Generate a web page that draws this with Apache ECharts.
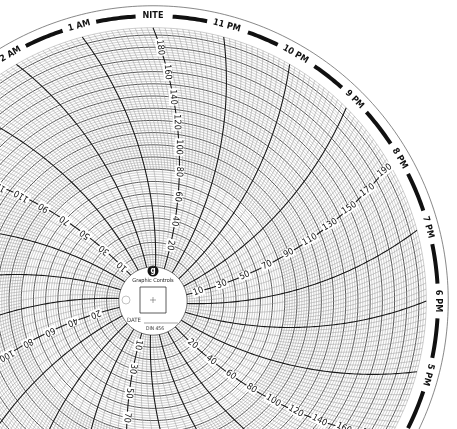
<!DOCTYPE html>
<html><head><meta charset="utf-8">
<script src="https://cdn.jsdelivr.net/npm/echarts@6/dist/echarts.min.js"></script>
<style>html,body{margin:0;padding:0;background:#fff}#c{width:457px;height:429px}</style>
</head><body><div id="c"></div>
<script>
// ---- data ----
const hourLabels = ['6 PM','7 PM','8 PM','9 PM','10 PM','11 PM','NITE','1 AM','2 AM','3 AM','4 AM','5 AM',
                    '6 AM','7 AM','8 AM','9 AM','10 AM','11 AM','NOON','1 PM','2 PM','3 PM','4 PM','5 PM'];
const scaleLineAngles = [90, 30, -30, -90, 210, 150];           // outer end (deg) of each labelled time line
const scaleLineValues = [
  [20,40,60,80,100,120,140,160,180],
  [10,30,50,70,90,110,130,150,170,190],
  [20,40,60,80,100,120,140,160,180],
  [10,30,50,70,90,110,130,150,170,190],
  [20,40,60,80,100,120,140,160,180],
  [10,30,50,70,90,110,130,150,170,190]
];
const scaleMin = 0, scaleMax = 196;  // chart range drawn
const minorCircleStep = 2, majorCircleStep = 10;
const minorTimeStepMin = 15, fineTimeStepMin = 5;

// ---- geometry helpers ----
const HOLE = 28, ARC_D = 600, RING_V = 205.6, EDGE_V = 214;
const outerOff = Math.acos((scaleMax + HOLE) / ARC_D);
function timeAngleDeg(theta0, v) { // curved time arc
  return theta0 - (Math.acos((v + HOLE) / ARC_D) - outerOff) * 180 / Math.PI;
}
const circles = [];
for (let v = scaleMin; v <= scaleMax; v += minorCircleStep) circles.push(v);
const timeLines = [];
for (let m = 0; m < 24 * 60; m += fineTimeStepMin) timeLines.push(m);

const chart = echarts.init(document.getElementById('c'), null, {renderer: 'canvas'});
function poly(points, stroke, w) {
  return {type: 'polyline', silent: true, shape: {points}, style: {stroke, lineWidth: w, fill: null}};
}
const FONT = 'DejaVu Sans Condensed, DejaVu Sans, sans-serif';
chart.setOption({
  animation: false,
  polar: {center: [153, 301], radius: (EDGE_V + HOLE + 1) * 1.22},
  angleAxis: {type: 'value', min: 0, max: 360, startAngle: 0, clockwise: false, show: false},
  radiusAxis: {type: 'value', min: -HOLE, max: EDGE_V + 1, show: false},
  series: [
    { // concentric value circles
      type: 'custom', coordinateSystem: 'polar', data: circles.map(v => [v]),
      renderItem(params, api) {
        const v = api.value(0), pts = [];
        for (let a = 0; a <= 360; a += 1) pts.push(api.coord([v, a]));
        const major = v % majorCircleStep === 0;
        return poly(pts, major ? '#2a2a2a' : '#999', major ? 0.8 : 0.5);
      }
    },
    { // curved time arcs
      type: 'custom', coordinateSystem: 'polar', data: timeLines.map(m => [m]),
      renderItem(params, api) {
        const m = api.value(0);
        const hour = m % 60 === 0, quarter = m % minorTimeStepMin === 0;
        const start = hour || quarter ? scaleMin : 80;
        const th0 = m / 60 * 15, pts = [];
        for (let v = start; v <= scaleMax; v += 2) pts.push(api.coord([v, timeAngleDeg(th0, v)]));
        return poly(pts, hour ? '#1a1a1a' : '#999', hour ? 1.1 : 0.5);
      }
    },
    { // thin outer edge circle
      type: 'custom', coordinateSystem: 'polar', data: [[EDGE_V]],
      renderItem(params, api) {
        const pts = [];
        for (let a = 0; a <= 360; a += 1) pts.push(api.coord([api.value(0), a]));
        return poly(pts, '#555', 0.7);
      }
    },
    { // thick ring segments between hour labels
      type: 'custom', coordinateSystem: 'polar', data: hourLabels.map((t, i) => [i, t.length]),
      renderItem(params, api) {
        const i = api.value(0);
        const g1 = hourLabels[i].length * 0.55 + 1.3, g2 = hourLabels[(i + 1) % 24].length * 0.55 + 1.3;
        const pts = [];
        for (let a = i * 15 + g1; a <= (i + 1) * 15 - g2; a += 0.5) pts.push(api.coord([RING_V, a]));
        return poly(pts, '#111', 4);
      }
    },
    { // hour labels
      type: 'custom', coordinateSystem: 'polar', data: hourLabels.map((t, i) => [i]),
      renderItem(params, api) {
        const i = api.value(0), p = api.coord([RING_V, i * 15]);
        return {type: 'text', silent: true, x: p[0], y: p[1], rotation: (i * 15 - 90) * Math.PI / 180,
          style: {text: hourLabels[i], fill: '#111', font: 'bold 9px ' + FONT, align: 'center', verticalAlign: 'middle'}};
      }
    },
    { // scale numbers along labelled time arcs
      type: 'custom', coordinateSystem: 'polar',
      data: scaleLineAngles.flatMap((a, k) => scaleLineValues[k].map(v => [v, a])),
      renderItem(params, api) {
        const v = api.value(0), a0 = api.value(1);
        const ang = timeAngleDeg(a0, v), p = api.coord([v, ang]);
        let rot = ang + 8;
        if (a0 === 90) rot = ang - 180 + 8;
        return {type: 'text', silent: true, x: p[0], y: p[1], rotation: rot * Math.PI / 180,
          style: {text: String(v), fill: '#111', font: '9px ' + FONT, align: 'center', verticalAlign: 'middle',
            backgroundColor: '#fff', padding: [0, 1]}};
      }
    }
  ],
  graphic: [
    {type: 'circle', shape: {cx: 153, cy: 301, r: 33}, style: {fill: '#fff', stroke: null}, silent: true},
    {type: 'circle', shape: {cx: 153, cy: 271, r: 5.5}, style: {fill: '#111'}},
    {type: 'text', x: 153, y: 271, style: {text: 'g', fill: '#fff', font: 'bold 8px ' + FONT, align: 'center', verticalAlign: 'middle'}},
    {type: 'text', x: 153, y: 281, style: {text: 'Graphic Controls', fill: '#222', font: '5.5px ' + FONT, align: 'center', verticalAlign: 'middle'}},
    {type: 'rect', shape: {x: 140, y: 287, width: 26, height: 26}, style: {fill: null, stroke: '#333', lineWidth: 0.8}},
    {type: 'line', shape: {x1: 150, y1: 300, x2: 156, y2: 300}, style: {stroke: '#666', lineWidth: 0.6}},
    {type: 'line', shape: {x1: 153, y1: 297, x2: 153, y2: 303}, style: {stroke: '#666', lineWidth: 0.6}},
    {type: 'circle', shape: {cx: 126, cy: 300, r: 4}, style: {fill: null, stroke: '#999', lineWidth: 0.6}},
    {type: 'text', x: 127, y: 320, style: {text: 'DATE', fill: '#444', font: '6px ' + FONT, verticalAlign: 'middle'}},
    {type: 'line', shape: {x1: 144, y1: 323, x2: 178, y2: 323}, style: {stroke: '#666', lineWidth: 0.6}},
    {type: 'text', x: 155, y: 329, style: {text: 'DIN 456', fill: '#333', font: '5px ' + FONT, align: 'center', verticalAlign: 'middle'}}
  ]
});
</script></body></html>
